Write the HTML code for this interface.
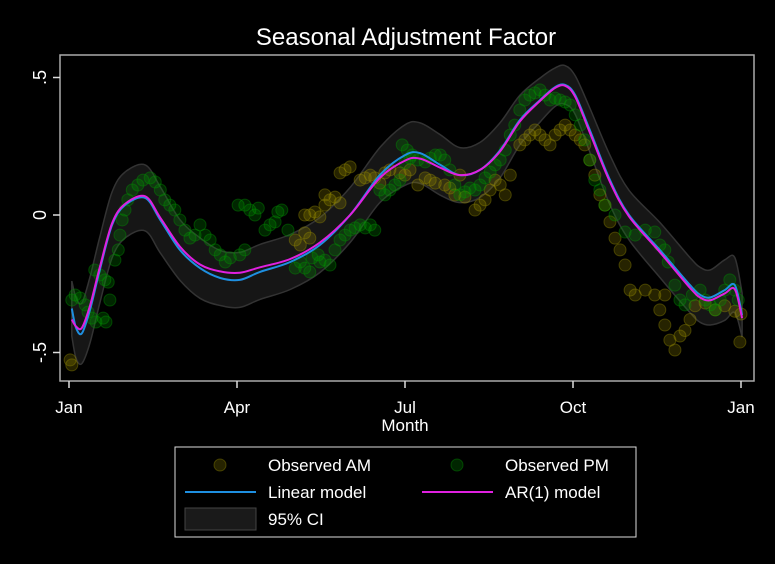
<!DOCTYPE html>
<html><head><meta charset="utf-8"><style>
body{margin:0;background:#000;}
svg{display:block;font-family:"Liberation Sans",sans-serif;}
</style></head><body>
<svg id="chart" width="775" height="564" viewBox="0 0 775 564" xmlns="http://www.w3.org/2000/svg">
<rect width="775" height="564" fill="#000"/>
<text x="406" y="45" fill="#fff" font-size="24" text-anchor="middle">Seasonal Adjustment Factor</text>
<g id="plot"></g>
<rect x="60" y="55" width="694" height="326" fill="none" stroke="#aaa" stroke-width="1.5"/>
<g id="axes"></g>
<text x="405" y="431" fill="#fff" font-size="17" text-anchor="middle">Month</text>
<g>
<rect x="175" y="447" width="461" height="90" fill="#000" stroke="#ddd" stroke-width="1"/>
<circle cx="220" cy="465" r="6" fill="rgba(150,140,0,0.25)" stroke="rgba(150,140,0,0.4)"/>
<text x="268" y="471" fill="#fff" font-size="17">Observed AM</text>
<circle cx="457" cy="465" r="6" fill="rgba(0,150,0,0.25)" stroke="rgba(0,150,0,0.4)"/>
<text x="505" y="471" fill="#fff" font-size="17">Observed PM</text>
<line x1="185" y1="492" x2="256" y2="492" stroke="#1e8fe0" stroke-width="2"/>
<text x="268" y="498" fill="#fff" font-size="17">Linear model</text>
<line x1="422" y1="492" x2="493" y2="492" stroke="#e020e0" stroke-width="2"/>
<text x="505" y="498" fill="#fff" font-size="17">AR(1) model</text>
<rect x="185" y="508" width="71" height="22" fill="#1a1a1a" stroke="#444"/>
<text x="268" y="525" fill="#fff" font-size="17">95% CI</text>
</g>
</svg>
<script>
const xTickVals=[0,3,6,9,12];
const xTickLabels=["Jan","Apr","Jul","Oct","Jan"];
const yTickVals=[0.5,0,-0.5];
const yTickLabels=[".5","0","-.5"];
const gridMonths=[0.05,0.125,0.23,0.375,0.55,0.77,1.0,1.36,1.63,1.98,2.34,2.7,3.05,3.41,3.95,4.48,5.02,5.55,6.0,6.27,6.63,6.98,7.34,7.7,8.05,8.41,8.68,8.86,9.04,9.3,9.66,10.0,10.55,11.09,11.27,11.45,11.71,11.89,12.02];
const linearVals=[-0.34,-0.41,-0.43,-0.345,-0.2,-0.036,0.036,0.062,-0.018,-0.127,-0.193,-0.229,-0.236,-0.207,-0.171,-0.109,0,0.145,0.218,0.225,0.182,0.145,0.164,0.236,0.345,0.418,0.465,0.473,0.436,0.309,0.127,0,-0.127,-0.255,-0.29,-0.30,-0.273,-0.255,-0.364];
const arVals=[-0.38,-0.405,-0.41,-0.33,-0.19,-0.03,0.04,0.068,-0.01,-0.115,-0.18,-0.205,-0.21,-0.19,-0.16,-0.1,0,0.135,0.198,0.205,0.172,0.145,0.164,0.232,0.34,0.415,0.462,0.47,0.43,0.3,0.12,-0.005,-0.135,-0.265,-0.3,-0.31,-0.285,-0.27,-0.375];
const ciHalf=[0.1,0.11,0.11,0.12,0.12,0.12,0.12,0.12,0.12,0.11,0.11,0.1,0.1,0.1,0.1,0.1,0.1,0.1,0.11,0.11,0.11,0.1,0.1,0.1,0.09,0.08,0.07,0.07,0.07,0.08,0.09,0.09,0.1,0.1,0.1,0.1,0.11,0.1,0.08];
const pmPoints=[[.05,-.309],[.11,-.291],[.2,-.302],[.29,-.327],[.34,-.353],[.41,-.375],[.48,-.389],[.61,-.375],[.66,-.389],[.46,-.2],[.55,-.218],[.64,-.236],[.7,-.244],[.73,-.309],[.82,-.164],[.88,-.127],[.91,-.073],[.95,-.018],[1.0,.018],[1.05,.055],[1.13,.091],[1.23,.109],[1.32,.127],[1.45,.135],[1.54,.12],[1.63,.091],[1.71,.055],[1.8,.036],[1.89,.018],[1.98,-.018],[2.07,-.055],[2.16,-.084],[2.25,-.073],[2.34,-.036],[2.43,-.073],[2.52,-.091],[2.61,-.127],[2.7,-.145],[2.88,-.156],[2.79,-.171],[3.05,-.145],[3.14,-.127],[3.02,.036],[3.14,.036],[3.23,.018],[3.32,0],[3.38,.025],[3.5,-.055],[3.59,-.036],[3.68,-.025],[3.73,.011],[3.8,.018],[3.91,-.055],[4.04,-.193],[4.13,-.171],[4.21,-.193],[4.3,-.207],[4.34,-.156],[4.45,-.145],[4.48,-.171],[4.57,-.164],[4.66,-.182],[4.75,-.127],[4.84,-.091],[4.93,-.073],[5.02,-.055],[5.11,-.047],[5.2,-.036],[5.29,-.047],[5.38,-.036],[5.46,-.055],[5.55,.091],[5.64,.073],[5.73,.091],[5.82,.109],[5.91,.127],[6.0,.189],[6.09,.207],[5.95,.255],[6.04,.236],[6.13,.218],[6.23,.2],[6.36,.193],[6.45,.207],[6.54,.218],[6.63,.218],[6.71,.2],[6.8,.164],[6.89,.109],[6.98,.073],[7.07,.084],[7.16,.098],[7.25,.091],[7.34,.109],[7.43,.135],[7.52,.156],[7.61,.182],[7.7,.2],[7.79,.236],[7.88,.291],[7.96,.327],[8.05,.382],[8.14,.418],[8.23,.436],[8.32,.444],[8.41,.455],[8.5,.436],[8.59,.418],[8.68,.425],[8.77,.418],[8.86,.411],[8.95,.4],[9.04,.364],[9.13,.327],[9.21,.273],[9.3,.2],[9.39,.127],[9.48,.091],[9.57,.036],[9.75,0],[9.93,-.062],[10.11,-.073],[10.29,-.055],[10.46,-.062],[10.55,-.109],[10.64,-.127],[10.7,-.171],[10.82,-.255],[10.91,-.309],[11.0,-.327],[11.13,-.291],[11.27,-.273],[11.36,-.309],[11.45,-.327],[11.54,-.345],[11.63,-.309],[11.71,-.273],[11.8,-.236],[11.89,-.273],[11.95,-.309]];
const amPoints=[[.02,-.527],[.05,-.545],[4.21,-.065],[4.3,-.084],[4.13,-.109],[4.04,-.091],[4.3,0],[4.21,0],[4.39,.011],[4.48,-.007],[4.57,.036],[4.66,.055],[4.75,.065],[4.84,.044],[4.57,.073],[4.84,.153],[4.93,.164],[5.02,.175],[5.2,.127],[5.29,.135],[5.38,.145],[5.46,.135],[5.55,.116],[5.64,.153],[5.73,.164],[5.91,.153],[6.0,.145],[6.09,.164],[6.23,.109],[6.36,.135],[6.45,.127],[6.54,.116],[6.71,.109],[6.8,.098],[6.89,.073],[6.98,.145],[7.07,.065],[7.25,.018],[7.34,.036],[7.43,.055],[7.52,.091],[7.61,.127],[7.7,.109],[7.79,.073],[7.88,.145],[8.05,.255],[8.14,.273],[8.23,.291],[8.32,.309],[8.41,.291],[8.5,.273],[8.59,.255],[8.68,.291],[8.77,.309],[8.86,.327],[8.95,.309],[9.04,.291],[9.13,.273],[9.21,.255],[9.3,.2],[9.39,.145],[9.48,.073],[9.57,.036],[9.66,-.025],[9.75,-.084],[9.84,-.127],[9.93,-.182],[10.02,-.273],[10.11,-.291],[10.29,-.273],[10.46,-.291],[10.64,-.291],[10.55,-.345],[10.64,-.4],[10.73,-.455],[10.82,-.491],[10.91,-.44],[11.0,-.42],[11.09,-.38],[11.18,-.33],[11.36,-.32],[11.54,-.345],[11.71,-.33],[11.89,-.35],[12.0,-.36],[11.98,-.462]];

const NS="http://www.w3.org/2000/svg";
function xS(m){return 69+56*m;}
function yS(v){return 215-275*v;}
function mk(tag,attrs,parent){const e=document.createElementNS(NS,tag);for(const k in attrs)e.setAttribute(k,attrs[k]);parent.appendChild(e);return e;}
function smooth(pts){let d="M"+pts[0][0].toFixed(1)+","+pts[0][1].toFixed(1);
for(let i=0;i<pts.length-1;i++){const p0=pts[Math.max(0,i-1)],p1=pts[i],p2=pts[i+1],p3=pts[Math.min(pts.length-1,i+2)];
const c1=[p1[0]+(p2[0]-p0[0])/6,p1[1]+(p2[1]-p0[1])/6],c2=[p2[0]-(p3[0]-p1[0])/6,p2[1]-(p3[1]-p1[1])/6];
d+=" C"+c1[0].toFixed(1)+","+c1[1].toFixed(1)+" "+c2[0].toFixed(1)+","+c2[1].toFixed(1)+" "+p2[0].toFixed(1)+","+p2[1].toFixed(1);}return d;}
const plot=document.getElementById('plot');
const axes=document.getElementById('axes');

const up=gridMonths.map((m,i)=>[xS(m),yS(linearVals[i]+ciHalf[i])]);
const lo=gridMonths.map((m,i)=>[xS(m),yS(linearVals[i]-ciHalf[i])]).reverse();
let dU=smooth(up), dL=smooth(lo).replace(/^M/," L");
const band=mk('path',{d:dU+dL+" Z",fill:"#161616",stroke:"#333","stroke-width":"1.5"},plot);



amPoints.forEach(p=>{const c=mk('circle',{cx:xS(p[0]),cy:yS(p[1]),r:6,fill:"rgba(150,140,0,0.25)",stroke:"rgba(150,140,0,0.4)","stroke-width":"1"},plot);

});
pmPoints.forEach(p=>{const c=mk('circle',{cx:xS(p[0]),cy:yS(p[1]),r:6,fill:"rgba(0,150,0,0.25)",stroke:"rgba(0,150,0,0.4)","stroke-width":"1"},plot);

});

const lin=mk('path',{d:smooth(gridMonths.map((m,i)=>[xS(m),yS(linearVals[i])])),fill:"none",stroke:"#1e8fe0","stroke-width":"2"},plot);


const ar=mk('path',{d:smooth(gridMonths.map((m,i)=>[xS(m),yS(arVals[i])])),fill:"none",stroke:"#e020e0","stroke-width":"2"},plot);



xTickVals.forEach((v,i)=>{const x=xS(v);
const t=mk('line',{x1:x,y1:381,x2:x,y2:388,stroke:"#ddd","stroke-width":"1.5"},axes);


const l=mk('text',{x:x,y:413,fill:"#fff","font-size":"17","text-anchor":"middle"},axes);l.textContent=xTickLabels[i];

});
yTickVals.forEach((v,i)=>{const y=yS(v);
const t=mk('line',{x1:53,y1:y,x2:60,y2:y,stroke:"#ddd","stroke-width":"1.5"},axes);


const l=mk('text',{x:46,y:y,fill:"#fff","font-size":"18","text-anchor":"middle",transform:"rotate(-90 46 "+y+")"},axes);l.textContent=yTickLabels[i];

});
</script>
</body></html>
